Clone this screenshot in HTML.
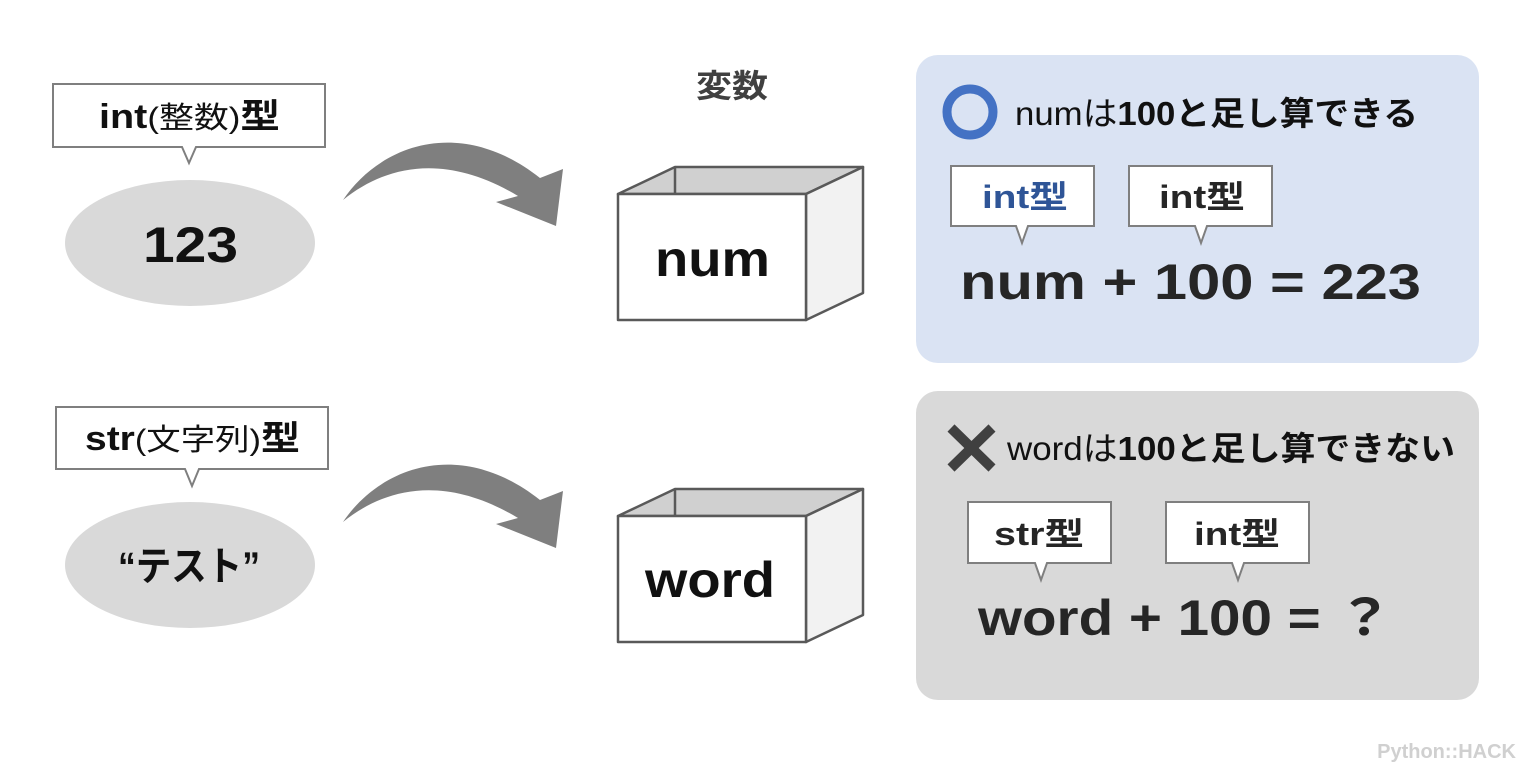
<!DOCTYPE html>
<html><head><meta charset="utf-8"><style>
body{margin:0;background:#fff;}
svg text{font-family:"Liberation Sans","Noto Sans CJK JP",sans-serif;font-weight:bold;}
</style></head><body>
<svg width="1536" height="777" viewBox="0 0 1536 777" xmlns="http://www.w3.org/2000/svg">
<path d="M53,84 H325 V147 H196 L189,163 L182,147 H53 Z" fill="#fff" stroke="#7f7f7f" stroke-width="2"/>
<text x="99" y="128" font-size="34" fill="#111" textLength="181" lengthAdjust="spacingAndGlyphs">int<tspan font-weight="normal" font-size="30">(整数)</tspan>型</text>
<ellipse cx="190" cy="243" rx="125" ry="63" fill="#d9d9d9"/>
<text x="143" y="262" font-size="50" fill="#111" textLength="95" lengthAdjust="spacingAndGlyphs">123</text>
<path d="M56,407 H328 V469 H199 L192,486 L185,469 H56 Z" fill="#fff" stroke="#7f7f7f" stroke-width="2"/>
<text x="85" y="450" font-size="34" fill="#111" textLength="215" lengthAdjust="spacingAndGlyphs">str<tspan font-weight="normal" font-size="30">(文字列)</tspan>型</text>
<ellipse cx="190" cy="565" rx="125" ry="63" fill="#d9d9d9"/>
<text x="118" y="580" font-size="40" fill="#111" textLength="142" lengthAdjust="spacingAndGlyphs">“テスト”</text>
<g fill="#7f7f7f">
<path d="M343,200 C380,145 460,115 540,178 L563,169 L556,226 L496,202 L518,196 C450,155 390,162 343,200 Z"/>
<path d="M343,522 C380,467 460,437 540,500 L563,491 L556,548 L496,524 L518,518 C450,477 390,484 343,522 Z"/>
</g>
<text x="696" y="97" font-size="32" fill="#404040" textLength="72" lengthAdjust="spacingAndGlyphs">変数</text>
<g stroke="#595959" stroke-width="2.5" stroke-linejoin="round">
<polygon points="618,194 675,167 863,167 806,194" fill="#d0d0d0"/>
<line x1="675" y1="167" x2="675" y2="194"/>
<polygon points="806,194 863,167 863,293 806,320" fill="#f2f2f2"/>
<rect x="618" y="194" width="188" height="126" fill="#fff"/>
<polygon points="618,516 675,489 863,489 806,516" fill="#d0d0d0"/>
<line x1="675" y1="489" x2="675" y2="516"/>
<polygon points="806,516 863,489 863,615 806,642" fill="#f2f2f2"/>
<rect x="618" y="516" width="188" height="126" fill="#fff"/>
</g>
<text x="655" y="276" font-size="50" fill="#111" textLength="115" lengthAdjust="spacingAndGlyphs">num</text>
<text x="645" y="597" font-size="50" fill="#111" textLength="130" lengthAdjust="spacingAndGlyphs">word</text>
<rect x="916" y="55" width="563" height="308" rx="22" fill="#dae3f3"/>
<rect x="916" y="391" width="563" height="309" rx="22" fill="#d9d9d9"/>
<circle cx="970" cy="112" r="23" fill="none" stroke="#4472c4" stroke-width="9"/>
<text x="1015" y="125" font-size="33" fill="#111" textLength="403" lengthAdjust="spacingAndGlyphs"><tspan font-weight="normal">numは</tspan>100と足し算できる</text>
<path d="M951,166 H1094 V226 H1028 L1022,243 L1016,226 H951 Z" fill="#fff" stroke="#7f7f7f" stroke-width="2"/>
<text x="982" y="208" font-size="32" fill="#2f5597" textLength="86" lengthAdjust="spacingAndGlyphs">int型</text>
<path d="M1129,166 H1272 V226 H1207 L1201,243 L1195,226 H1129 Z" fill="#fff" stroke="#7f7f7f" stroke-width="2"/>
<text x="1159" y="208" font-size="32" fill="#262626" textLength="86" lengthAdjust="spacingAndGlyphs">int型</text>
<text x="960" y="299" font-size="50" fill="#262626" textLength="461" lengthAdjust="spacingAndGlyphs">num + 100 = 223</text>
<g stroke="#404040" stroke-width="10"><line x1="951" y1="428" x2="992" y2="468"/><line x1="992" y1="428" x2="951" y2="468"/></g>
<text x="1007" y="460" font-size="33" fill="#111" textLength="448" lengthAdjust="spacingAndGlyphs"><tspan font-weight="normal">wordは</tspan>100と足し算できない</text>
<path d="M968,502 H1111 V563 H1047 L1041,580 L1035,563 H968 Z" fill="#fff" stroke="#7f7f7f" stroke-width="2"/>
<text x="994" y="545" font-size="32" fill="#262626" textLength="90" lengthAdjust="spacingAndGlyphs">str型</text>
<path d="M1166,502 H1309 V563 H1244 L1238,580 L1232,563 H1166 Z" fill="#fff" stroke="#7f7f7f" stroke-width="2"/>
<text x="1194" y="545" font-size="32" fill="#262626" textLength="86" lengthAdjust="spacingAndGlyphs">int型</text>
<text x="978" y="635" font-size="50" fill="#262626" textLength="415" lengthAdjust="spacingAndGlyphs">word + 100 = ？</text>
<text x="1516" y="758" font-size="20" text-anchor="end" fill="#d0d0d0">Python::HACK</text>
</svg>
</body></html>
